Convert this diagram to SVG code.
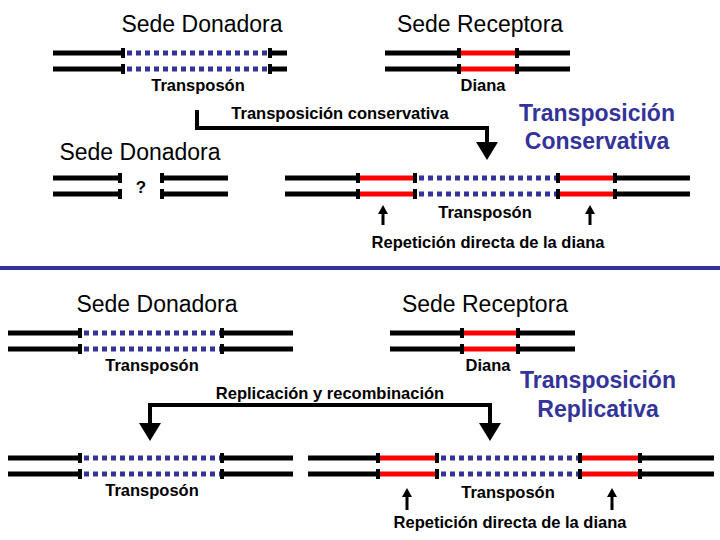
<svg xmlns="http://www.w3.org/2000/svg" width="720" height="540" viewBox="0 0 720 540">
<defs>
<style>
.b{stroke:#000;stroke-width:5}
.r{stroke:#f00;stroke-width:5}
.d{stroke:#333399;stroke-width:5;stroke-dasharray:5 4}
.t{fill:#000}
.h{font-family:"Liberation Sans",Arial,sans-serif;font-size:23px;text-anchor:middle}
.s{font-family:"Liberation Sans",Arial,sans-serif;font-size:16.5px;font-weight:bold;text-anchor:middle}
.bl{font-family:"Liberation Sans",Arial,sans-serif;font-size:23px;font-weight:bold;fill:#333399;text-anchor:middle}
.c{stroke:#000;stroke-width:4;fill:none}
.k{stroke:#000;stroke-width:3}
</style>
</defs>
<rect width="720" height="540" fill="#fff"/>
<g id="donor1">
<text class="h" x="202" y="32">Sede Donadora</text>
<line class="b" x1="53" y1="53" x2="123" y2="53"/><line class="b" x1="53" y1="69" x2="123" y2="69"/>
<line class="d" x1="127" y1="53" x2="268" y2="53"/><line class="d" x1="127" y1="69" x2="268" y2="69"/>
<line class="b" x1="270" y1="53" x2="287" y2="53"/><line class="b" x1="270" y1="69" x2="287" y2="69"/>
<rect class="t" x="121" y="48" width="4" height="10"/><rect class="t" x="121" y="64" width="4" height="10"/>
<rect class="t" x="268" y="48" width="4" height="10"/><rect class="t" x="268" y="64" width="4" height="10"/>
<text class="s" x="198" y="91">Transposón</text>
</g>
<g id="receptor1">
<text class="h" x="480" y="32">Sede Receptora</text>
<line class="b" x1="385" y1="53" x2="459" y2="53"/><line class="b" x1="385" y1="69" x2="459" y2="69"/>
<line class="r" x1="459" y1="53" x2="517" y2="53"/><line class="r" x1="459" y1="69" x2="517" y2="69"/>
<line class="b" x1="517" y1="53" x2="570" y2="53"/><line class="b" x1="517" y1="69" x2="570" y2="69"/>
<rect class="t" x="457" y="48" width="4" height="10"/><rect class="t" x="457" y="64" width="4" height="10"/>
<rect class="t" x="515" y="48" width="4" height="10"/><rect class="t" x="515" y="64" width="4" height="10"/>
<text class="s" x="483" y="91">Diana</text>
</g>
<g id="title1">
<text class="bl" x="597" y="121">Transposición</text>
<text class="bl" x="597" y="149">Conservativa</text>
</g>
<g id="donor2">
<text class="h" x="140" y="160">Sede Donadora</text>
<line class="b" x1="53" y1="178" x2="120" y2="178"/><line class="b" x1="53" y1="194" x2="120" y2="194"/>
<rect class="t" x="118" y="173" width="4" height="10"/><rect class="t" x="118" y="189" width="4" height="10"/>
<text x="141" y="193" font-family="Liberation Sans,Arial,sans-serif" font-size="17" font-weight="bold" text-anchor="middle">?</text>
<line class="b" x1="162" y1="178" x2="228" y2="178"/><line class="b" x1="162" y1="194" x2="228" y2="194"/>
<rect class="t" x="160" y="173" width="4" height="10"/><rect class="t" x="160" y="189" width="4" height="10"/>
</g>
<g id="result1">
<line class="b" x1="285" y1="178" x2="358" y2="178"/><line class="b" x1="285" y1="194" x2="358" y2="194"/>
<line class="r" x1="358" y1="178" x2="415" y2="178"/><line class="r" x1="358" y1="194" x2="415" y2="194"/>
<line class="d" x1="419" y1="178" x2="556" y2="178"/><line class="d" x1="419" y1="194" x2="556" y2="194"/>
<line class="r" x1="558" y1="178" x2="615" y2="178"/><line class="r" x1="558" y1="194" x2="615" y2="194"/>
<line class="b" x1="615" y1="178" x2="690" y2="178"/><line class="b" x1="615" y1="194" x2="690" y2="194"/>
<rect class="t" x="356" y="173" width="4" height="10"/><rect class="t" x="356" y="189" width="4" height="10"/>
<rect class="t" x="413" y="173" width="4" height="10"/><rect class="t" x="413" y="189" width="4" height="10"/>
<rect class="t" x="556" y="173" width="4" height="10"/><rect class="t" x="556" y="189" width="4" height="10"/>
<rect class="t" x="613" y="173" width="4" height="10"/><rect class="t" x="613" y="189" width="4" height="10"/>
<text class="s" x="485" y="218">Transposón</text>
<text class="s" x="488" y="248">Repetición directa de la diana</text>
</g>
<line x1="0" y1="268" x2="720" y2="268" stroke="#333399" stroke-width="4"/>
<g id="donor3">
<text class="h" x="157" y="312">Sede Donadora</text>
<line class="b" x1="8" y1="333" x2="80" y2="333"/><line class="b" x1="8" y1="349" x2="80" y2="349"/>
<line class="d" x1="84" y1="333" x2="220" y2="333"/><line class="d" x1="84" y1="349" x2="220" y2="349"/>
<line class="b" x1="222" y1="333" x2="293" y2="333"/><line class="b" x1="222" y1="349" x2="293" y2="349"/>
<rect class="t" x="78" y="328" width="4" height="10"/><rect class="t" x="78" y="344" width="4" height="10"/>
<rect class="t" x="220" y="328" width="4" height="10"/><rect class="t" x="220" y="344" width="4" height="10"/>
<text class="s" x="152" y="371">Transposón</text>
</g>
<g id="receptor3">
<text class="h" x="485" y="312">Sede Receptora</text>
<line class="b" x1="390" y1="333" x2="462" y2="333"/><line class="b" x1="390" y1="349" x2="462" y2="349"/>
<line class="r" x1="462" y1="333" x2="518" y2="333"/><line class="r" x1="462" y1="349" x2="518" y2="349"/>
<line class="b" x1="518" y1="333" x2="575" y2="333"/><line class="b" x1="518" y1="349" x2="575" y2="349"/>
<rect class="t" x="460" y="328" width="4" height="10"/><rect class="t" x="460" y="344" width="4" height="10"/>
<rect class="t" x="516" y="328" width="4" height="10"/><rect class="t" x="516" y="344" width="4" height="10"/>
<text class="s" x="488" y="371">Diana</text>
</g>
<g id="title2">
<text class="bl" x="598" y="388">Transposición</text>
<text class="bl" x="598" y="417">Replicativa</text>
</g>
<g id="result3a">
<line class="b" x1="8" y1="458" x2="80" y2="458"/><line class="b" x1="8" y1="474" x2="80" y2="474"/>
<line class="d" x1="84" y1="458" x2="220" y2="458"/><line class="d" x1="84" y1="474" x2="220" y2="474"/>
<line class="b" x1="222" y1="458" x2="293" y2="458"/><line class="b" x1="222" y1="474" x2="293" y2="474"/>
<rect class="t" x="78" y="453" width="4" height="10"/><rect class="t" x="78" y="469" width="4" height="10"/>
<rect class="t" x="220" y="453" width="4" height="10"/><rect class="t" x="220" y="469" width="4" height="10"/>
<text class="s" x="152" y="496">Transposón</text>
</g>
<g id="result3b">
<line class="b" x1="308" y1="458" x2="378" y2="458"/><line class="b" x1="308" y1="474" x2="378" y2="474"/>
<line class="r" x1="378" y1="458" x2="437" y2="458"/><line class="r" x1="378" y1="474" x2="437" y2="474"/>
<line class="d" x1="441" y1="458" x2="578" y2="458"/><line class="d" x1="441" y1="474" x2="578" y2="474"/>
<line class="r" x1="580" y1="458" x2="640" y2="458"/><line class="r" x1="580" y1="474" x2="640" y2="474"/>
<line class="b" x1="640" y1="458" x2="714" y2="458"/><line class="b" x1="640" y1="474" x2="714" y2="474"/>
<rect class="t" x="376" y="453" width="4" height="10"/><rect class="t" x="376" y="469" width="4" height="10"/>
<rect class="t" x="435" y="453" width="4" height="10"/><rect class="t" x="435" y="469" width="4" height="10"/>
<rect class="t" x="578" y="453" width="4" height="10"/><rect class="t" x="578" y="469" width="4" height="10"/>
<rect class="t" x="638" y="453" width="4" height="10"/><rect class="t" x="638" y="469" width="4" height="10"/>
<text class="s" x="508" y="498">Transposón</text>
<text class="s" x="510" y="528">Repetición directa de la diana</text>
</g>
<g id="connectors">
<path class="c" d="M197,110 V128 H487 V143"/>
<text class="s" x="340" y="119">Transposición conservativa</text>
<path d="M476,142 L498,142 L487,160 z"/>
<line class="k" x1="383" y1="225" x2="383" y2="212"/><path d="M378,214 L388,214 L383,205 z"/>
<line class="k" x1="590" y1="225" x2="590" y2="212"/><path d="M585,214 L595,214 L590,205 z"/>
<path class="c" d="M150,425 V405 H490 V425"/>
<text class="s" x="330" y="399">Replicación y recombinación</text>
<path d="M139,423 L161,423 L150,441 z"/><path d="M479,423 L501,423 L490,441 z"/>
<line class="k" x1="407" y1="510" x2="407" y2="495"/><path d="M402,497 L412,497 L407,488 z"/>
<line class="k" x1="612" y1="510" x2="612" y2="495"/><path d="M607,497 L617,497 L612,488 z"/>
</g>
</svg>
